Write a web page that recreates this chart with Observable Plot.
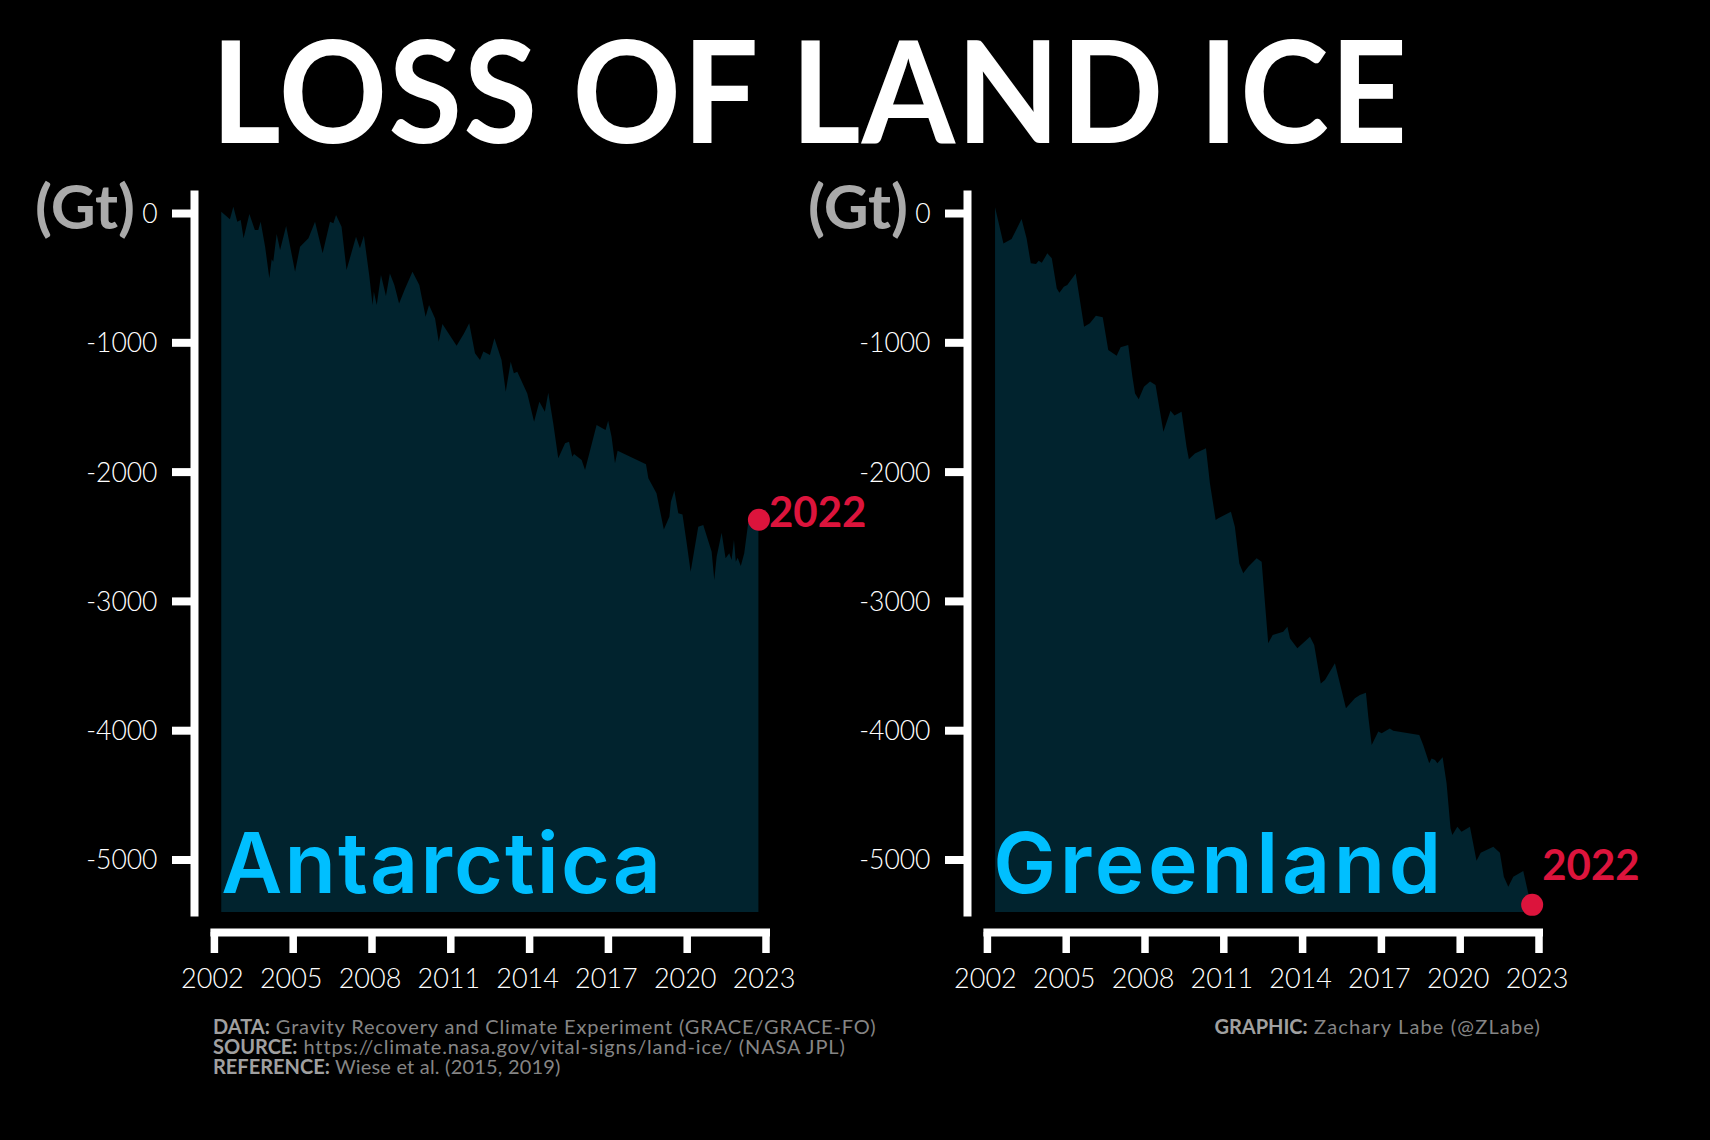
<!DOCTYPE html>
<html>
<head>
<meta charset="utf-8">
<script src="https://cdn.jsdelivr.net/npm/d3@7"></script>
<script src="https://cdn.jsdelivr.net/npm/@observablehq/plot@0.6"></script>
<style>
  html, body { margin: 0; background: #000; }
  body { width: 1710px; height: 1140px; position: relative; overflow: hidden; font-family: Lato, sans-serif; }
  h1 { position: absolute; left: 211px; top: 17px; margin: 0; color: #fff; font-size: 142px; font-weight: 700; white-space: nowrap; line-height: 1; letter-spacing: 1.5px; transform: scaleX(0.945); transform-origin: left top; }
  .unit { position: absolute; top: 168px; color: #aaa; font-size: 62px; font-weight: 700; line-height: 1.2; }
  .chart { position: absolute; top: 170px; }
  .chart svg { overflow: visible; background: transparent; }
  .notes { position: absolute; color: #858585; font-size: 20px; line-height: 20.2px; font-weight: 400; white-space: nowrap; letter-spacing: 0.85px; }
  .notes b { color: #a0a0a0; font-weight: 700; letter-spacing: 0; }
</style>
</head>
<body>
<h1>LOSS OF LAND ICE</h1>
<div class="unit" style="left:35px">(Gt)</div>
<div class="unit" style="left:808px">(Gt)</div>
<div class="chart" id="antarctica" style="left:0"></div>
<div class="chart" id="greenland" style="left:773px"></div>
<div class="notes" style="left:213px;top:1016px">
  <div><b>DATA:</b> Gravity Recovery and Climate Experiment (GRACE/GRACE-FO)</div>
  <div><b>SOURCE:</b> https://climate.nasa.gov/vital-signs/land-ice/ (NASA JPL)</div>
  <div style="letter-spacing:0.2px"><b>REFERENCE:</b> Wiese et al. (2015, 2019)</div>
</div>
<div class="notes" style="right:169px;top:1016px;letter-spacing:1.15px"><b>GRAPHIC:</b> Zachary Labe (@ZLabe)</div>
<script>
const xTicks = [2002, 2005, 2008, 2011, 2014, 2017, 2020, 2023];
const yTicks = [0, -1000, -2000, -3000, -4000, -5000];
const areaBase = -5406;

const antYears = [2002.28, 2002.61, 2002.74, 2002.89, 2003.02, 2003.13, 2003.35, 2003.56, 2003.69, 2003.78, 2003.95, 2004.11, 2004.20, 2004.26, 2004.39, 2004.52, 2004.75, 2005.09, 2005.28, 2005.60, 2005.85, 2006.14, 2006.42, 2006.55, 2006.65, 2006.86, 2007.05, 2007.41, 2007.56, 2007.71, 2007.92, 2008.04, 2008.09, 2008.20, 2008.36, 2008.55, 2008.70, 2008.87, 2009.05, 2009.28, 2009.56, 2009.82, 2010.06, 2010.19, 2010.42, 2010.56, 2010.70, 2011.24, 2011.52, 2011.72, 2011.94, 2012.13, 2012.26, 2012.51, 2012.68, 2012.95, 2013.11, 2013.30, 2013.42, 2013.55, 2013.93, 2014.19, 2014.39, 2014.60, 2014.73, 2014.92, 2015.11, 2015.37, 2015.52, 2015.645, 2015.71, 2016.00, 2016.13, 2016.57, 2016.91, 2017.01, 2017.14, 2017.27, 2017.37, 2018.45, 2018.54, 2018.85, 2019.13, 2019.34, 2019.40, 2019.53, 2019.68, 2019.84, 2020.00, 2020.15, 2020.44, 2020.63, 2020.95, 2021.05, 2021.14, 2021.33, 2021.48, 2021.62, 2021.71, 2021.80, 2021.87, 2021.94, 2022.06, 2022.19, 2022.34, 2022.73];
const antMass = [10, -49, 49, -67, -54, -196, -8, -131, -131, -67, -260, -505, -358, -376, -162, -286, -100, -454, -260, -196, -67, -312, -67, -80, -15, -106, -441, -183, -273, -175, -492, -711, -608, -711, -479, -642, -467, -557, -699, -583, -454, -557, -802, -711, -815, -995, -858, -1026, -931, -853, -1085, -1137, -1072, -1098, -969, -1137, -1382, -1150, -1240, -1227, -1395, -1614, -1459, -1537, -1390, -1627, -1897, -1781, -1769, -1885, -1864, -1910, -1988, -1640, -1678, -1606, -1730, -1936, -1838, -1944, -2052, -2168, -2447, -2349, -2233, -2148, -2323, -2331, -2555, -2774, -2426, -2413, -2619, -2838, -2658, -2472, -2671, -2632, -2684, -2529, -2697, -2666, -2730, -2632, -2400, -2369];

const grYears = [2002.31, 2002.63, 2002.75, 2002.94, 2003.32, 2003.51, 2003.67, 2003.87, 2003.97, 2004.09, 2004.30, 2004.47, 2004.66, 2004.76, 2004.93, 2005.06, 2005.38, 2005.52, 2005.70, 2005.92, 2006.15, 2006.41, 2006.62, 2006.94, 2007.09, 2007.38, 2007.54, 2007.64, 2007.78, 2007.98, 2008.21, 2008.42, 2008.72, 2008.99, 2009.14, 2009.41, 2009.60, 2009.69, 2009.92, 2010.34, 2010.49, 2010.71, 2010.81, 2011.29, 2011.44, 2011.61, 2011.76, 2011.95, 2012.27, 2012.46, 2012.71, 2012.88, 2013.28, 2013.44, 2013.54, 2013.82, 2014.30, 2014.46, 2014.71, 2014.87, 2015.25, 2015.44, 2015.67, 2016.01, 2016.20, 2016.43, 2016.52, 2016.65, 2016.90, 2017.03, 2017.34, 2017.47, 2018.46, 2018.61, 2018.84, 2018.93, 2019.06, 2019.15, 2019.35, 2019.50, 2019.65, 2019.72, 2019.91, 2020.07, 2020.39, 2020.64, 2020.80, 2021.02, 2021.28, 2021.53, 2021.68, 2021.85, 2022.04, 2022.42, 2022.61, 2022.74];
const grMass = [44, -235, -222, -201, -46, -196, -389, -394, -369, -384, -312, -350, -583, -616, -570, -557, -467, -647, -879, -853, -794, -807, -1060, -1103, -1039, -1021, -1266, -1395, -1441, -1343, -1304, -1330, -1691, -1529, -1567, -1537, -1807, -1905, -1859, -1820, -2091, -2374, -2361, -2310, -2426, -2710, -2787, -2735, -2671, -2697, -3328, -3264, -3238, -3199, -3290, -3367, -3277, -3341, -3638, -3612, -3483, -3638, -3831, -3753, -3728, -3710, -3895, -4114, -4011, -4024, -3986, -4004, -4037, -4114, -4256, -4218, -4231, -4256, -4210, -4411, -4759, -4811, -4746, -4785, -4746, -5009, -4947, -4927, -4901, -4947, -5133, -5210, -5133, -5089, -5262, -5347];

const white = "#fff";
const red = "#dc143c";

function drawPanel(id, years, mass, name, labelDy, nameX, nameSpacing) {
  const rows = years.map((yr, i) => ({ yr, mass: mass[i] }));
  const last = rows[rows.length - 1];
  const chart = Plot.plot({
    width: 900,
    height: 830,
    marginLeft: 213.9,
    marginRight: 134.5,
    marginTop: 20,
    marginBottom: 84,
    style: { background: "transparent", color: white, fontFamily: "Lato, sans-serif" },
    x: { domain: [2002, 2023], axis: null },
    y: { domain: [-5437, 178], axis: null },
    marks: [
      Plot.areaY(rows, { x: "yr", y1: areaBase, y2: "mass", fill: "#01232e" }),
      // the spines sit off the plot frame, like the reference
      Plot.frame({ anchor: "left", stroke: white, strokeWidth: 8, strokeLinecap: "butt", dx: -19.9 }),
      Plot.frame({ anchor: "bottom", stroke: white, strokeWidth: 8, strokeLinecap: "square", dy: 16 }),
      // ticks and labels are drawn apart because the labels sit a little off the ticks
      Plot.axisY(yTicks, { anchor: "left", dx: -19.9, tickSize: 22, strokeWidth: 8, stroke: white, tickFormat: () => "", label: null }),
      Plot.axisY(yTicks, {
        anchor: "left", dx: -19.9, dy: 1, tickSize: 0, tickPadding: 37, stroke: "none",
        tickFormat: (d) => String(d), fontSize: 26.5, fontWeight: 300, fill: white, label: null
      }),
      Plot.axisX(xTicks, { anchor: "bottom", dy: 16, tickSize: 21, strokeWidth: 7.5, stroke: white, tickFormat: () => "", label: null }),
      Plot.axisX(xTicks, {
        anchor: "bottom", dy: 19, dx: -2, tickSize: 0, tickPadding: 33, stroke: "none",
        tickFormat: (d) => String(d), fontSize: 27, fontWeight: 300, fill: white, label: null
      }),
      Plot.text([name], {
        x: nameX, y: areaBase, text: (d) => d, textAnchor: "start", lineAnchor: "middle",
        dy: -46, fontSize: 84, fontWeight: 600, fontFamily: "Inter, sans-serif", fill: "#00bfff"
      }),
      Plot.dot([last], { x: "yr", y: "mass", r: 11, fill: red }),
      Plot.text([last], {
        x: "yr", y: "mass", text: () => "2022", textAnchor: "start", lineAnchor: "middle",
        dx: 10, dy: labelDy, fontSize: 42, fontWeight: 700, fill: red
      })
    ]
  });
  chart.querySelectorAll("text").forEach((t) => {
    if (t.textContent === name) t.style.letterSpacing = nameSpacing;
  });
  document.getElementById(id).append(chart);
}

drawPanel("antarctica", antYears, antMass, "Antarctica", -6, 2002.26, "2.1px");
drawPanel("greenland", grYears, grMass, "Greenland", -38, 2002.22, "3.6px");
</script>
</body>
</html>
